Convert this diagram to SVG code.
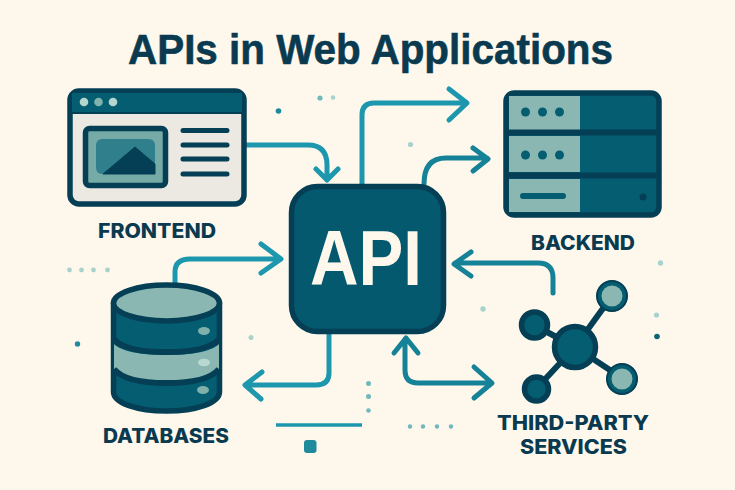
<svg xmlns="http://www.w3.org/2000/svg" width="735" height="490" viewBox="0 0 735 490">
<style>
.ln{fill:none;stroke:#1c97ad;stroke-width:5;stroke-linecap:round;stroke-linejoin:round}
.ln2{stroke:#158297}
.o{stroke:#053f55;stroke-width:5.5;stroke-linejoin:round}
.t{fill:#0a3a50;font-family:"Liberation Sans",Arial,sans-serif;font-weight:700;text-anchor:middle}
.lab{font-family:Inter,"Liberation Sans",sans-serif;font-weight:800;font-size:20px}
.bar{stroke:#053f55;stroke-width:5;stroke-linecap:round}
.d1{fill:#a9d2cd}.d2{fill:#70b8bb}.d3{fill:#1f8a9c}
</style>
<rect width="735" height="490" fill="#fef8ec"/>
<text id="title" class="t" x="370.500" y="64" font-size="43" stroke="#0a3a50" stroke-width="0.600" textLength="485" lengthAdjust="spacingAndGlyphs">APIs in Web Applications</text>

<g id="connectors">
<path class="ln" d="M246 145H308Q327 145 327 165V180M316 169L327 180L338 169"/>
<path class="ln" d="M362 184V115Q362 103 374 103H466M449 89L467 103L449 120"/>
<path class="ln ln2" d="M424 184Q424 158 446 158H487M473 148L488 159L473 171"/>
<path class="ln" d="M175 283V272Q175 259 190 259H280M261 244L281 259L261 273"/>
<path class="ln" d="M329 334V373Q329 385 316 385H246M262 372L245 385L261 399"/>
<path class="ln ln2" d="M553 293V278Q553 263 538 263H455M471 252L454 264L471 276"/>
<path class="ln ln2" d="M394 353L406 338L418 353M405 339V370Q405 383 418 383H491M474 367L492 383L474 398"/>
<path d="M276 425H362" fill="none" stroke="#1c97ad" stroke-width="3.500"/>
</g>

<g id="frontend">
<rect x="70" y="91" width="174" height="113" rx="9" fill="#ebe9e1" class="o"/>
<path d="M72 93H242V112H72Z" fill="#045d70"/>
<path d="M70 113H244" fill="none" stroke="#053f55" stroke-width="2"/>
<circle cx="84" cy="102" r="4.300" fill="#b5d6cd"/>
<circle cx="98.500" cy="102" r="4.300" fill="#80b3ad"/>
<circle cx="113" cy="102" r="4.300" fill="#b5d6cd"/>
<rect x="85.500" y="128.500" width="80" height="57" rx="4" fill="#76aaa6" class="o"/>
<rect x="96" y="139" width="59" height="35" rx="6" fill="#2f7f8c"/>
<path d="M103 174L135 147L155 164V174Z" fill="#053f55" stroke="#053f55" stroke-linejoin="round"/>
<path class="bar" d="M183 130.500H227M183 145H227M183 159H227M183 174H227"/>
<text class="t lab" x="157" y="238" textLength="118" lengthAdjust="spacingAndGlyphs">FRONTEND</text>
</g>

<g id="backend">
<rect x="506" y="93" width="153" height="122" rx="8" fill="#045d70" class="o"/>
<path d="M509 96H580V130H509ZM509 136H580V172H509ZM509 179H580V212H509Z" fill="#8ab7b1"/>
<path d="M505 132.500H660M505 175.500H660" stroke="#053f55" stroke-width="6" fill="none"/>
<g fill="#045d70"><circle cx="525.500" cy="112" r="4.500"/><circle cx="542.500" cy="112" r="4.500"/><circle cx="559.500" cy="112" r="4.500"/><circle cx="525.500" cy="155" r="4.500"/><circle cx="542.500" cy="155" r="4.500"/><circle cx="559.500" cy="155" r="4.500"/></g>
<path d="M523 196H563" stroke="#045d70" stroke-width="6" stroke-linecap="round"/>
<circle cx="643" cy="197" r="3.500" fill="#053f55"/>
<text class="t lab" x="583" y="250" textLength="104" lengthAdjust="spacingAndGlyphs">BACKEND</text>
</g>

<g id="api">
<rect x="291.500" y="186.500" width="152" height="145" rx="26" fill="#04596e" class="o"/>
<text x="366" y="285" fill="#fef8ec" font-family="'Liberation Sans',Arial,sans-serif" font-weight="700" font-size="77" text-anchor="middle" textLength="112" lengthAdjust="spacingAndGlyphs">API</text>
</g>

<g id="databases">
<path d="M113.500 303V392C113.500 403 137 411 166.500 411S219.500 403 219.500 392V303Z" fill="#045d70" class="o"/>
<path d="M114 344C122 352 142 355 166.500 355S211 352 219 344V372C211 380 190 384 166.500 384S122 380 114 372Z" fill="#8ab7b1"/>
<path d="M114 339C122 349 142 352 166.500 352S211 349 219 339M114 369C122 379 142 383 166.500 383S211 379 219 369" fill="none" stroke="#053f55" stroke-width="6"/>
<ellipse cx="166.500" cy="303" rx="53" ry="18" fill="#8ab7b1" class="o"/>
<ellipse cx="204" cy="331" rx="6" ry="4" fill="#7fb0ac"/>
<ellipse cx="204" cy="362.500" rx="6" ry="3.800" fill="#b9d9d0"/>
<ellipse cx="203" cy="390" rx="6" ry="4" fill="#7fb0ac"/>
<text class="t lab" x="166" y="443" textLength="126" lengthAdjust="spacingAndGlyphs">DATABASES</text>
</g>

<g id="third-party">
<path d="M575 347L534 325M575 347L612 296M575 347L622 378M575 347L536 389" stroke="#053f55" stroke-width="6"/>
<circle cx="575" cy="347" r="20.500" fill="#045d70" class="o"/>
<circle cx="534.500" cy="325" r="13" fill="#045d70" class="o"/>
<circle cx="612" cy="296" r="13" fill="#8ab7b1" stroke="#045d70" stroke-width="5"/>
<circle cx="612" cy="296" r="15" fill="none" stroke="#053f55" stroke-width="2"/>
<circle cx="622" cy="379" r="13" fill="#8ab7b1" stroke="#045d70" stroke-width="5"/>
<circle cx="622" cy="379" r="15" fill="none" stroke="#053f55" stroke-width="2"/>
<circle cx="536.500" cy="389" r="12" fill="#045d70" class="o"/>
<text class="t lab" x="573" y="430" textLength="152" lengthAdjust="spacingAndGlyphs">THIRD-PARTY</text>
<text class="t lab" x="573.500" y="454" textLength="107" lengthAdjust="spacingAndGlyphs">SERVICES</text>
</g>

<rect x="304" y="440" width="12.500" height="13" rx="3" fill="#1f8a9c"/>
<g id="dots">
<circle class="d2" cx="320" cy="98" r="2.600"/><circle class="d1" cx="333" cy="97.500" r="2.300"/><circle class="d3" cx="278.500" cy="111" r="2.800"/>
<circle class="d1" cx="410.500" cy="144.500" r="2.600"/>
<circle class="d1" cx="69.500" cy="270" r="2.400"/><circle class="d1" cx="81.500" cy="270" r="2.400"/><circle class="d1" cx="93.500" cy="270" r="2.400"/><circle class="d1" cx="107.500" cy="270" r="2.400"/>
<circle class="d3" cx="77.500" cy="344" r="2.700"/><circle class="d1" cx="251" cy="337.500" r="2.500"/>
<circle class="d1" cx="483" cy="309" r="2.700"/><circle class="d1" cx="660.500" cy="263" r="2.700"/><circle class="d1" cx="656.500" cy="315" r="2.600"/><circle fill="#0d6273" cx="657" cy="336.500" r="2.800"/>
<circle class="d2" cx="368.500" cy="383.500" r="2.500"/><circle class="d2" cx="368.500" cy="396.500" r="2.500"/><circle class="d2" cx="368.500" cy="410.500" r="2.300"/>
<circle class="d2" cx="410" cy="426.500" r="2.200"/><circle class="d2" cx="423" cy="426.500" r="2.200"/><circle class="d2" cx="437" cy="426.500" r="2.200"/><circle class="d2" cx="451" cy="426.500" r="2.200"/>
</g>
</svg>
